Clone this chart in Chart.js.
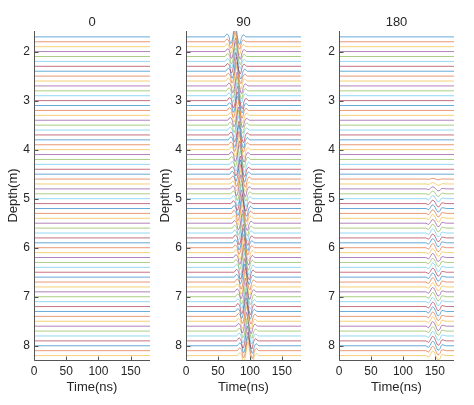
<!DOCTYPE html>
<html><head><meta charset="utf-8">
<script src="https://cdn.jsdelivr.net/npm/chart.js@4.4.1/dist/chart.umd.min.js"></script>
<style>
html,body{margin:0;padding:0;background:#fff;}
#wrap{position:relative;width:474px;height:405px;overflow:hidden;background:#fff;}
.p{position:absolute;top:0;height:405px;}
</style></head><body>
<div id="wrap">
<div class="p" style="left:0;width:152px"><canvas id="c0"></canvas></div>
<div class="p" style="left:152px;width:151px"><canvas id="c1"></canvas></div>
<div class="p" style="left:305px;width:151px"><canvas id="c2"></canvas></div>
</div>
<script>
// ---- data ----
const panelTitles = ['0', '90', '180'];
const depths = [1.7,1.8,1.9,2.0,2.1,2.2,2.3,2.4,2.5,2.6,
  2.7,2.8,2.9,3.0,3.1,3.2,3.3,3.4,3.5,3.6,
  3.7,3.8,3.9,4.0,4.1,4.2,4.3,4.4,4.5,4.6,
  4.7,4.8,4.9,5.0,5.1,5.2,5.3,5.4,5.5,5.6,
  5.7,5.8,5.9,6.0,6.1,6.2,6.3,6.4,6.5,6.6,
  6.7,6.8,6.9,7.0,7.1,7.2,7.3,7.4,7.5,7.6,
  7.7,7.8,7.9,8.0,8.1,8.2];
const timeRange = [0, 180];
const timeTicks = [0, 50, 100, 150];
const depthTicks = [2, 3, 4, 5, 6, 7, 8];

// wavelet shapes (time offset in ns, relative amplitude)
const waveOffsets90 = [-17,-13,-10,-7,-4.5,-2,0,2,4.5,7,10,13,17];
const waveShape90   = [0,0.2,0.05,-0.5,-0.2,0.55,1,0.5,-0.25,-0.55,-0.05,0.15,0];
const waveOffsets180 = [-15,-11,-8,-5,-2,1,4,7,10,13,17];
const waveShape180   = [0,-0.3,0.2,0.9,0.7,-0.2,-0.9,-0.6,0.2,0.15,0];

// arrival times (ns) and amplitudes (m) per trace
const arrival90 = [77,77,77,78,78,78,78,79,79,79,
  80,80,80,81,81,81,82,82,82,82,
  83,83,83,84,84,84,85,85,85,86,
  86,86,87,87,87,88,88,88,89,89,
  89,90,90,90,91,91,91,92,92,92,
  93,93,93,94,94,94,94,95,95,95,
  96,96,96,97,97,97];
const amp90 = [0.28,0.27,0.29,0.28,0.3,0.27,0.28,0.29,0.28,0.3,
  0.28,0.29,0.27,0.3,0.28,0.29,0.28,0.27,0.3,0.29,
  0.28,0.3,0.27,0.29,0.28,0.3,0.28,0.27,0.29,0.3,
  0.28,0.29,0.27,0.3,0.28,0.29,0.3,0.28,0.27,0.29,
  0.3,0.28,0.29,0.27,0.3,0.28,0.29,0.3,0.28,0.27,
  0.29,0.3,0.28,0.29,0.27,0.3,0.28,0.29,0.3,0.28,
  0.27,0.29,0.3,0.28,0.29,0.28];
const arrival180 = [151,151,151,151,151,151,151,151,151,151,
  151,151,151,151,151,151,151,151,151,151,
  151,151,151,151,151,151,151,151,151,151,
  151,151,151,151,151,151,151,151,151,151,
  151,151,151,151,151,151,151,151,151,151,
  151,151,151,151,151,151,151,151,151,151,
  151,151,151,151,151,151];
const amp180 = [0,0,0,0,0,0,0,0,0,0,
  0,0,0,0,0,0,0,0,0,0,
  0,0,0,0,0,0,0,0,0,
  0.015,0.03,0.045,0.06,
  0.07,0.075,0.08,0.08,0.085,0.08,0.085,0.09,0.085,0.09,
  0.09,0.085,0.09,0.09,0.095,0.09,0.09,0.095,0.09,0.095,
  0.095,0.09,0.095,0.1,0.095,0.1,0.1,0.095,0.1,0.1,
  0.1,0.095,0.1];
const amp0 = depths.map(() => 0);

const lineColors = ['rgba(0,114,189,0.6)','rgba(217,83,25,0.6)','rgba(237,177,32,0.6)',
  'rgba(126,47,142,0.6)','rgba(119,172,48,0.6)','rgba(77,190,238,0.6)','rgba(162,20,47,0.6)'];

// ---- drawing ----
const axisColor = '#555555';
const textColor = '#262626';
const fontFamily = 'Liberation Sans, Arial, sans-serif';

const matlabAxes = {
  id: 'matlabAxes',
  afterDraw(chart) {
    const {ctx, chartArea: a, scales: {x, y}} = chart;
    ctx.save();
    ctx.strokeStyle = axisColor;
    ctx.lineWidth = 1;
    ctx.beginPath();
    const L = Math.round(a.left) + 0.5, B = Math.round(a.bottom) + 0.5;
    ctx.moveTo(L, a.top); ctx.lineTo(L, B); ctx.lineTo(a.right, B);
    timeTicks.forEach(v => { const px = Math.round(x.getPixelForValue(v)) + 0.5; ctx.moveTo(px, B); ctx.lineTo(px, B - 4); });
    depthTicks.forEach(v => { const py = Math.round(y.getPixelForValue(v)) + 0.5; ctx.moveTo(L, py); ctx.lineTo(L + 4, py); });
    ctx.stroke();
    ctx.restore();
  }
};

function buildDatasets(arrivals, amps, offs, shape) {
  return depths.map((d, i) => {
    const pts = [{x: timeRange[0], y: d}];
    if (amps[i] !== 0) {
      offs.forEach((o, k) => pts.push({x: arrivals[i] + o, y: d - amps[i] * shape[k]}));
    }
    pts.push({x: timeRange[1], y: d});
    return {
      data: pts, borderColor: lineColors[i % 7], borderWidth: 1,
      pointRadius: 0, showLine: true, fill: false, cubicInterpolationMode: 'monotone'
    };
  });
}

function makeChart(id, title, datasets) {
  return new Chart(document.getElementById(id), {
    type: 'scatter',
    data: {datasets},
    plugins: [matlabAxes],
    options: {
      responsive: true, maintainAspectRatio: false, animation: false,
      layout: {padding: {left: 0, right: 2, top: 0, bottom: 0}},
      plugins: {
        legend: {display: false}, tooltip: {enabled: false},
        title: {display: true, fullSize: false, text: title, color: textColor,
          font: {family: fontFamily, size: 13, weight: 'normal'},
          padding: {top: 15, bottom: 0.4}}
      },
      scales: {
        x: {
          type: 'linear', min: timeRange[0], max: timeRange[1],
          afterBuildTicks: s => { s.ticks = timeTicks.map(v => ({value: v})); },
          afterFit: s => { s.height = 45; },
          grid: {display: false, drawTicks: false}, border: {display: false},
          ticks: {color: textColor, font: {family: fontFamily, size: 12},
            padding: 4, maxRotation: 0, autoSkip: false},
          title: {display: true, text: 'Time(ns)', color: textColor,
            font: {family: fontFamily, size: 13},
            padding: {top: 0, bottom: 10}}
        },
        y: {
          type: 'linear', reverse: true, min: 1.58, max: 8.29,
          afterBuildTicks: s => { s.ticks = depthTicks.map(v => ({value: v})); },
          afterFit: s => { s.width = 34; },
          grid: {display: false, drawTicks: false}, border: {display: false},
          ticks: {color: textColor, font: {family: fontFamily, size: 12},
            padding: 4, autoSkip: false},
          title: {display: true, text: 'Depth(m)', color: textColor,
            font: {family: fontFamily, size: 13},
            padding: {top: 6, bottom: 0}}
        }
      }
    }
  });
}

makeChart('c0', panelTitles[0], buildDatasets(amp0, amp0, [], []));
makeChart('c1', panelTitles[1], buildDatasets(arrival90, amp90, waveOffsets90, waveShape90));
makeChart('c2', panelTitles[2], buildDatasets(arrival180, amp180, waveOffsets180, waveShape180));
</script>
</body></html>
